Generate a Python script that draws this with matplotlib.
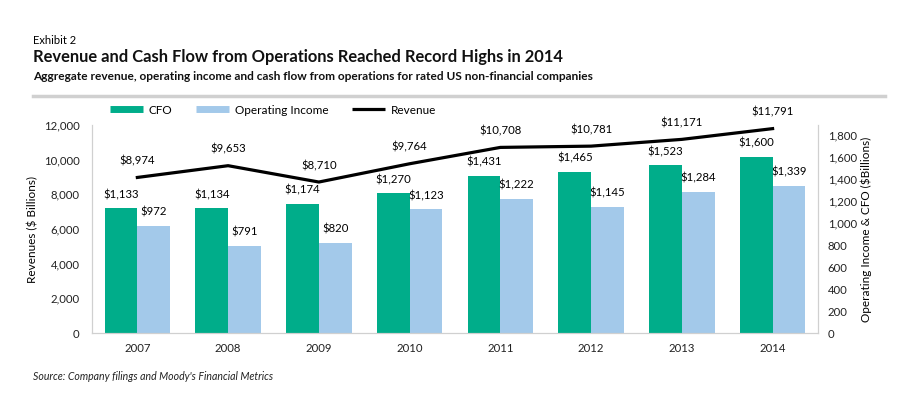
import numpy as np
import matplotlib
matplotlib.use("Agg")
import matplotlib.pyplot as plt
from matplotlib.lines import Line2D

plt.rcParams['font.family'] = ['Lato', 'DejaVu Sans']

years = ['2007', '2008', '2009', '2010', '2011', '2012', '2013', '2014']
revenue = [8974, 9653, 8710, 9764, 10708, 10781, 11171, 11791]
cfo = [1133, 1134, 1174, 1270, 1431, 1465, 1523, 1600]
op_income = [972, 791, 820, 1123, 1222, 1145, 1284, 1339]

green = '#00AD8A'
blue = '#A3C9EA'
grey = '#D0D0D0'

fig = plt.figure(figsize=(9.17, 3.99), dpi=100)
ax = fig.add_axes([0.1003, 0.1654, 0.7917, 0.5213])
ax2 = ax.twinx()

x = np.arange(len(years))
w = 0.36

ax2.bar(x - w / 2, cfo, w, color=green)
ax2.bar(x + w / 2, op_income, w, color=blue)
for i in range(len(years)):
    ax2.annotate(f'${cfo[i]:,}', (x[i] - w / 2, cfo[i]), xytext=(0, 6),
                 textcoords='offset points', ha='center', va='bottom', fontsize=8.2)
    ax2.annotate(f'${op_income[i]:,}', (x[i] + w / 2, op_income[i]), xytext=(0, 6),
                 textcoords='offset points', ha='center', va='bottom', fontsize=8.2)

# revenue line goes on top of the bars
ax.set_zorder(ax2.get_zorder() + 1)
ax.patch.set_visible(False)
ax.plot(x, revenue, color='black', lw=2.3)
for i in range(len(years)):
    ax.annotate(f'${revenue[i]:,}', (x[i], revenue[i]), xytext=(0, 8),
                textcoords='offset points', ha='center', va='bottom', fontsize=8.2)

ax.set_xlim(-0.5, len(years) - 0.5)
ax.set_ylim(0, 12000)
ax.set_yticks(range(0, 12001, 2000))
ax.yaxis.set_major_formatter(matplotlib.ticker.FuncFormatter(lambda v, p: f'{int(v):,}'))
ax2.set_yticks(range(0, 1801, 200))
ax2.set_ylim(0, 1891)
ax2.yaxis.set_major_formatter(matplotlib.ticker.FuncFormatter(lambda v, p: f'{int(v):,}'))
ax.set_xticks(x)
ax.set_xticklabels(years)

for a in (ax, ax2):
    a.tick_params(length=0, labelsize=8.2, colors='#222222')
    a.spines['top'].set_visible(False)
    for s in ('left', 'right', 'bottom'):
        a.spines[s].set_color(grey)
ax.tick_params(axis='y', pad=9)
ax.tick_params(axis='x', pad=7)
ax2.tick_params(axis='y', pad=7)

ax.set_ylabel('Revenues ($ Billions)', fontsize=8.5, labelpad=4)
ax2.set_ylabel('Operating Income & CFO ($Billions)', fontsize=8.5, labelpad=3)

handles = [Line2D([], [], color=green, lw=5, solid_capstyle='butt'),
           Line2D([], [], color=blue, lw=5, solid_capstyle='butt'),
           Line2D([], [], color='black', lw=2.3, solid_capstyle='butt')]
fig.legend(handles, ['CFO', 'Operating Income', 'Revenue'], loc='center left',
           bbox_to_anchor=(0.108, 0.724), ncol=3, frameon=False, fontsize=8.5,
           handlelength=2.8, handletextpad=0.5, columnspacing=2.0)

fig.text(0.036, 0.889, 'Exhibit 2', fontsize=8)
fig.text(0.036, 0.845, 'Revenue and Cash Flow from Operations Reached Record Highs in 2014',
         fontsize=11.9, fontweight='bold', color='#111111')
fig.text(0.036, 0.800, 'Aggregate revenue, operating income and cash flow from operations for rated US non-financial companies',
         fontsize=8.6, fontweight='bold', color='#111111')
fig.add_artist(Line2D([0.036, 0.965], [0.759, 0.759], color=grey, lw=2.5))
fig.text(0.036, 0.048, "Source: Company filings and Moody's Financial Metrics",
         fontsize=7.6, style='italic', color='#222222')

fig.savefig('out.png', dpi=100)
